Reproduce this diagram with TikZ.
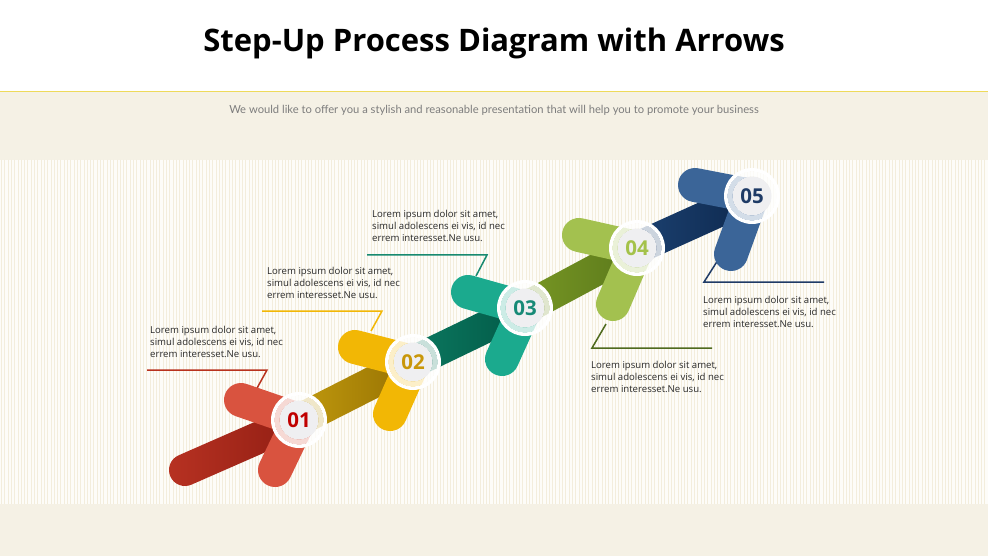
\documentclass[tikz,border=0pt]{standalone}
\usepackage{fontspec}
\usetikzlibrary{calc}
\setmainfont{Open Sans}
\newfontfamily\subfont{Lato}
\definecolor{beige}{RGB}{245,241,229}
\definecolor{stripebg}{RGB}{253,252,248}
\definecolor{stripeln}{RGB}{243,237,220}
\definecolor{goldline}{RGB}{238,218,90}
\definecolor{subgray}{RGB}{125,125,125}
\definecolor{txt}{RGB}{40,40,40}
\definecolor{innergray}{RGB}{239,239,241}
\definecolor{armA}{HTML}{D9533F}
\definecolor{armB}{HTML}{F2B705}
\definecolor{armC}{HTML}{1BAA8E}
\definecolor{armD}{HTML}{A3C14F}
\definecolor{armE}{HTML}{3B6598}
\definecolor{shAa}{HTML}{B83222}\definecolor{shAb}{HTML}{8C1B11}
\definecolor{shBa}{HTML}{C8A010}\definecolor{shBb}{HTML}{8E6A00}
\definecolor{shCa}{HTML}{0D7D63}\definecolor{shCb}{HTML}{005443}
\definecolor{shDa}{HTML}{7D9C25}\definecolor{shDb}{HTML}{55731A}
\definecolor{shEa}{HTML}{1E4576}\definecolor{shEb}{HTML}{0B2448}
\definecolor{numA}{HTML}{C00000}
\definecolor{numB}{HTML}{C9970A}
\definecolor{numC}{HTML}{178A77}
\definecolor{numD}{HTML}{A4C24A}
\definecolor{numE}{HTML}{1F3B66}
\definecolor{lnA}{HTML}{B8321E}
\definecolor{lnB}{HTML}{F2B705}
\definecolor{lnC}{HTML}{178A70}
\definecolor{lnD}{HTML}{4E6A1E}
\definecolor{lnE}{HTML}{1F3B66}
\tikzset{
  armstyle/.style={line width=34pt, line cap=round, line join=round},
  callout/.style={line width=1.5pt},
  bodytext/.style={font=\fontsize{9.6}{11.8}\selectfont, text=txt, align=left, inner sep=0pt, anchor=north west},
  numstyle/.style={font=\fontsize{20.5}{22}\selectfont\bfseries, inner sep=0pt},
}
\begin{document}
\begin{tikzpicture}[x=1pt,y=-1pt]
\useasboundingbox (0,0) rectangle (988,556);
% background
\fill[white] (0,0) rectangle (988,91);
\fill[beige] (0,91) rectangle (988,160);
\fill[stripebg] (0,160) rectangle (988,504);
\foreach \i in {0,...,299} \draw[stripeln, line width=0.9pt] ({\i*3.3+1.5},160) -- ({\i*3.3+1.5},504);
\fill[beige] (0,504) rectangle (988,556);
\draw[goldline, line width=0.9pt] (0,91) -- (988,91);
% titles
\node[font=\fontsize{31}{36}\selectfont\bfseries, text=black, anchor=base] (title) at (494,52) {Step-Up Process Diagram with Arrows};
\node[font=\subfont\fontsize{11.2}{13}\selectfont, text=subgray, anchor=base] (sub) at (494,113.5) {We would like to offer you a stylish and reasonable presentation that will help you to promote your business};
% key coordinates
\coordinate (S0) at (185,470);
\coordinate (C1) at (299,420);
\coordinate (C2) at (413,362);
\coordinate (C3) at (525,308);
\coordinate (C4) at (637,248);
\coordinate (C5) at (752,196);
\coordinate (U1) at (241,400); \coordinate (L1) at (275,470);
\coordinate (U2) at (355,347); \coordinate (L2) at (390,414);
\coordinate (U3) at (468,292); \coordinate (L3) at (502,359);
\coordinate (U4) at (579,235); \coordinate (L4) at (613,304);
\coordinate (U5) at (695,185); \coordinate (L5) at (731,254);
% callout lines
\coordinate (a1) at (147,370); \coordinate (b1) at (267,370); \coordinate (e1) at (256,390);
\coordinate (a2) at (262,311); \coordinate (b2) at (382,311); \coordinate (e2) at (371,331);
\coordinate (a3) at (367,255); \coordinate (b3) at (487,255); \coordinate (e3) at (476,276);
\coordinate (a4) at (712,348); \coordinate (b4) at (592,348); \coordinate (e4) at (606,324);
\coordinate (a5) at (824,282); \coordinate (b5) at (704,282); \coordinate (e5) at (718,260);
\draw[callout, lnA] (a1) -- (b1) -- (e1);
\draw[callout, lnB] (a2) -- (b2) -- (e2);
\draw[callout, lnC] (a3) -- (b3) -- (e3);
\draw[callout, lnD] (a4) -- (b4) -- (e4);
\draw[callout, lnE] (a5) -- (b5) -- (e5);
% shafts and arms
\foreach \A/\B/\ca/\cb/\arm/\k in {S0/C1/shAa/shAb/armA/1, C1/C2/shBa/shBb/armB/2, C2/C3/shCa/shCb/armC/3, C3/C4/shDa/shDb/armD/4, C4/C5/shEa/shEb/armE/5}{
  \shade[left color=\ca, right color=\cb, rounded corners=16pt]
    let \p1=($(\B)-(\A)$), \n1={atan2(\y1,\x1)}, \n2={veclen(\x1,\y1)} in
    [shift={(\A)}, rotate=\n1]
    (-16pt,-16pt) rectangle (\n2+16pt,16pt);
  \draw[armstyle, \arm] (U\k) -- (C\k) -- (L\k);
}
% circles
\foreach \k/\c in {1/numA,2/numB,3/numC,4/numD,5/numE}{
  \fill[white, even odd rule] (C\k) circle (28pt) (C\k) circle (24.5pt);
  \fill[white, opacity=0.78, even odd rule] (C\k) circle (24.5pt) (C\k) circle (19.5pt);
  \fill[innergray] (C\k) circle (19.5pt);
  \node[numstyle, text=\c] (n\k) at (C\k) {0\k};
}
% texts
\node[bodytext] (t1) at (150,326) {Lorem ipsum dolor sit amet,\\simul adolescens ei vis, id nec\\errem interesset.Ne usu.};
\node[bodytext] (t2) at (267,267) {Lorem ipsum dolor sit amet,\\simul adolescens ei vis, id nec\\errem interesset.Ne usu.};
\node[bodytext] (t3) at (372,210) {Lorem ipsum dolor sit amet,\\simul adolescens ei vis, id nec\\errem interesset.Ne usu.};
\node[bodytext] (t4) at (591,361) {Lorem ipsum dolor sit amet,\\simul adolescens ei vis, id nec\\errem interesset.Ne usu.};
\node[bodytext] (t5) at (703,296) {Lorem ipsum dolor sit amet,\\simul adolescens ei vis, id nec\\errem interesset.Ne usu.};
\end{tikzpicture}
\end{document}
